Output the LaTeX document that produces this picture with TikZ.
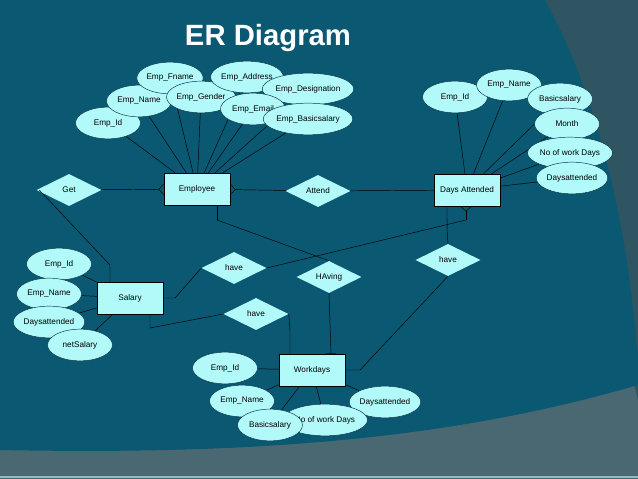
\documentclass[tikz,border=0pt]{standalone}
\usepackage{fontspec}
\setmainfont{Liberation Sans}
\usetikzlibrary{shapes.geometric, arrows.meta, backgrounds}

\definecolor{slide}{HTML}{0B5872}
\definecolor{strip}{HTML}{2E5561}
\definecolor{floor}{HTML}{4A6871}
\definecolor{pale}{HTML}{B2FAFA}

\begin{document}
\begin{tikzpicture}[x=0.03cm, y=-0.03cm]
    \tikzstyle{entity} = [draw, rectangle, fill=pale, minimum width=1.98cm, minimum height=0.96cm, font=\fontsize{7}{8}\selectfont];
    \tikzstyle{attr} = [draw=slide!60!black, ellipse, fill=pale, minimum width=1.95cm, minimum height=0.95cm, inner sep=0pt, font=\fontsize{7}{8}\selectfont];
    \tikzstyle{rel} = [diamond, fill=pale, minimum width=1.95cm, minimum height=0.96cm, inner sep=0pt, aspect=2, font=\fontsize{7}{8}\selectfont];
    \tikzstyle{many} = [-{Straight Barb[reversed, length=4pt, width=9pt]}];
    \tikzstyle{one} = [-{Bar[width=8pt]}];

    \useasboundingbox (0,0) rectangle (638,479);

    \node[white, font=\bfseries\fontsize{25}{27}\selectfont] (title) at (268,38) {ER Diagram};

    % entities
    \node[entity] (emp) at (197,189) {Employee};
    \node[entity] (days) at (467,190) {Days Attended};
    \node[entity] (sal) at (130,298) {Salary};
    \node[entity] (work) at (312,370) {Workdays};

    % relations
    \node[rel] (get) at (69,190) {Get};
    \node[rel] (attend) at (318,191) {Attend};
    \node[rel] (haveD) at (448,260) {have};
    \node[rel] (haveS) at (234,268) {have};
    \node[rel] (haveW) at (256,314) {have};
    \node[rel] (having) at (329,277) {HAving};

    % employee attributes
    \node[attr] (eId) at (108,123) {Emp\_Id};
    \node[attr] (eName) at (139,101) {Emp\_Name};
    \node[attr] (eFname) at (170,78) {Emp\_Fname};
    \node[attr] (eGender) at (201,97) {Emp\_Gender};
    \node[attr] (eAddr) at (247,77) {Emp\_Address};
    \node[attr] (eDesig) at (308,89) {Emp\_Designation};
    \node[attr] (eMail) at (253,109) {Emp\_Email};
    \node[attr] (eBasic) at (308,119) {Emp\_Basicsalary};

    % days attended attributes
    \node[attr] (dId) at (455,97) {Emp\_Id};
    \node[attr] (dName) at (509,85) {Emp\_Name};
    \node[attr] (dBasic) at (560,99) {Basicsalary};
    \node[attr] (dMonth) at (567,124) {Month};
    \node[attr] (dWork) at (570,153) {No of work Days};
    \node[attr] (dDays) at (572,178) {Daysattended};

    % salary attributes
    \node[attr] (sId) at (59,264) {Emp\_Id};
    \node[attr] (sName) at (49,294) {Emp\_Name};
    \node[attr] (sDays) at (49,322) {Daysattended};
    \node[attr] (sNet) at (80,345) {netSalary};

    % workdays attributes
    \node[attr] (wId) at (225,368) {Emp\_Id};
    \node[attr] (wName) at (242,401) {Emp\_Name};
    \node[attr] (wDays) at (385,402) {Daysattended};
    \node[attr] (wWork) at (325,420) {No of work Days};
    \node[attr] (wBasic) at (270,425) {Basicsalary};

    \begin{scope}[on background layer]
        % background
        \fill[floor] (0,0) rectangle (638,479);
        \fill[strip] (540,0) -- (638,0) -- (638,400) -- cycle;
        \fill[slide] (0,0) -- (545,0) .. controls (610,120) and (630,260) .. (638,360)
            -- (638,385) .. controls (450,440) and (250,455) .. (0,450) -- cycle;
        \draw[pale!60!floor, line width=1.5pt] (0,477) -- (638,477);

        \foreach \a in {eId, eName, eFname, eGender, eAddr, eDesig, eMail, eBasic}
            \draw (\a) -- (emp);
        \foreach \a in {dId, dName, dBasic, dMonth, dWork, dDays}
            \draw (\a) -- (days);
        \foreach \a in {sId, sName, sDays, sNet}
            \draw (\a) -- (sal);
        \foreach \a in {wId, wName, wBasic, wWork, wDays}
            \draw (\a) -- (work);
    \end{scope}

    % relationships
    \draw[many] (get) -- (emp);
    \draw[many] (attend) -- (emp);
    \draw (attend) -- (days);
    \draw (get.west) ++(3,0) -- (110,265) -- (sal.north -| 110,0);
    \draw[one] (217,220) -- (emp.south -| 217,0);
    \draw (217,220) -- (having.north);
    \draw[many] (466,220) -- (days.south -| 466,0);
    \draw (466,220) -- (haveS.east);
    \draw[one] (haveS.west) -- (175,298) -- (sal.east);
    \draw (days.south -| 447,0) .. controls (447,230) .. (haveD.north);
    \draw (haveD.south) -- (360,370) -- (work.east);
    \draw[one] (having.south) -- (work.north -| 331,0);
    \draw (sal.south -| 150,0) -- (150,328) -- (haveW.west);
    \draw (haveW.east) -- (290,330) -- (work.north -| 290,0);
\end{tikzpicture}
\end{document}
